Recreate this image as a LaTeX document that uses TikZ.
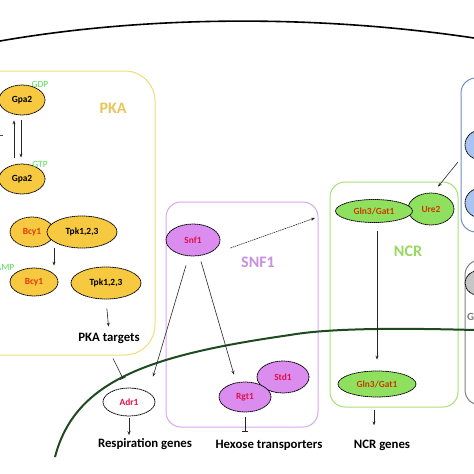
\documentclass[tikz,border=0pt]{standalone}
\usepackage{fontspec}
\setmainfont{Carlito}
\usetikzlibrary{shapes.geometric,arrows.meta}
\definecolor{pkaline}{HTML}{EEDD77}
\definecolor{pkatext}{HTML}{E8C45A}
\definecolor{yelfill}{HTML}{F7C940}
\definecolor{snfline}{HTML}{D8A8E8}
\definecolor{snftext}{HTML}{C890E0}
\definecolor{vioFill}{HTML}{DA8CEF}
\definecolor{ncrline}{HTML}{A8E070}
\definecolor{ncrtext}{HTML}{98D860}
\definecolor{grnfill}{HTML}{90E060}
\definecolor{nucline}{HTML}{1E4A1E}
\definecolor{bluline}{HTML}{6F8FC0}
\definecolor{blufill}{HTML}{A9C4F0}
\definecolor{gdpgreen}{HTML}{55E055}
\definecolor{redlab}{HTML}{E0380C}
\definecolor{crimson}{HTML}{E0104C}
\definecolor{brownlab}{HTML}{C83C00}
\begin{document}
\begin{tikzpicture}[x=1pt,y=-1pt,
  ell/.style={ellipse, draw=black, line width=0.75pt, dash pattern=on 1.6pt off 0.5pt,
    inner sep=0pt, font=\fontsize{9.4}{10}\selectfont\bfseries},
  yel/.style={ell, fill=yelfill},
  vio/.style={ell, fill=vioFill, text=crimson},
  grn/.style={ell, fill=grnfill, text=brownlab},
  arr/.style={-{Stealth[length=4pt,width=3pt]}, line width=0.6pt, draw=black!85},
  inh/.style={-{Bar[width=6pt]}, line width=0.6pt, draw=black!85},
  gene/.style={font=\fontsize{12.8}{14}\selectfont\bfseries, inner sep=1pt},
  boxlabel/.style={font=\fontsize{16}{18}\selectfont\bfseries},
  nucleotide/.style={font=\fontsize{9.5}{10}\selectfont, text=gdpgreen, inner sep=0pt},
  compbox/.style={rounded corners=15pt, line width=1pt}]
\useasboundingbox (0,0) rectangle (474,474);
\clip (0,0) rectangle (474,474);
% cell membrane
\draw[line width=1.6pt] (0,41) .. controls (150,15) and (320,15) .. (474,38);
% compartment boxes
\draw[compbox, draw=pkaline, rounded corners=30pt] (-40,71) rectangle (155,355);
\draw[compbox, draw=snfline] (166,202) rectangle (318,427);
\draw[compbox, draw=ncrline] (330,182) rectangle (458,407);
\draw[compbox, draw=bluline] (461,78) rectangle (530,232);
\draw[compbox, draw=gray] (465,260) rectangle (530,405);
% nuclear membrane
\draw[line width=2pt, draw=nucline] (55,457) .. controls (75,380) and (150,355) .. (290,335)
  .. controls (330,328) and (400,328) .. (474,330);
% box labels
\node[boxlabel, text=pkatext] (pkal) at (113,108) {PKA};
\node[boxlabel, text=snftext] (snfl) at (258,262) {SNF1};
\node[boxlabel, text=ncrtext] (ncrl) at (408,251) {NCR};
% PKA pathway
\node[yel, minimum width=46pt, minimum height=30pt] (gpaA) at (22,100) {Gpa2};
\node[yel, minimum width=46pt, minimum height=30pt] (gpaB) at (22,179) {Gpa2};
\node[nucleotide] (gdp) at (40,84) {GDP};
\node[nucleotide] (gtp) at (40,164) {GTP};
\node[yel, minimum width=44pt, minimum height=30pt, text=redlab] (bcyA) at (32,232) {Bcy1};
\node[yel, minimum width=70pt, minimum height=32pt] (tpkA) at (82,232) {Tpk1,2,3};
\node[yel, minimum width=48pt, minimum height=28pt, text=redlab] (bcyB) at (34,282) {Bcy1};
\node[nucleotide, anchor=east] (camp) at (14.5,267) {cAMP};
\node[yel, minimum width=70pt, minimum height=32pt] (tpkB) at (106,283) {Tpk1,2,3};
\node[gene] (pkat) at (109,338) {PKA targets};
\coordinate (leftin) at (-6,135);
\coordinate (leftend) at (3,135);
\draw[line width=0.6pt, draw=black!70] (leftin) -- (leftend);
\draw[arr, shorten <=6pt, shorten >=5pt] ([xshift=-8pt]gpaB.north) -- ([xshift=-8pt]gpaA.south);
\draw[arr, shorten <=5pt, shorten >=6pt] ([xshift=-1pt]gpaA.south) -- ([xshift=-1pt]gpaB.north);
\coordinate (cplx) at (54,248);
\draw[arr, shorten >=2pt] (cplx) -- (cplx |- bcyB.north);
\draw[arr, shorten <=9pt, shorten >=5pt] (tpkB.south) -- (pkat.north);
% SNF1 pathway
\node[vio, minimum width=54pt, minimum height=32pt] (snf) at (193,240) {Snf1};
\node[vio, minimum width=52pt, minimum height=32pt] (std) at (283,377) {Std1};
\node[vio, minimum width=52pt, minimum height=30pt] (rgt) at (245,397) {Rgt1};
\node[ell, fill=white, text=crimson, minimum width=52pt, minimum height=28pt] (adr) at (129,402) {Adr1};
\node[gene] (resp) at (145,444) {Respiration genes};
\node[gene] (hex) at (269,445) {Hexose transporters};
\draw[inh] ([xshift=4pt,yshift=-14pt]pkat.south) -- ([xshift=-6pt,yshift=9pt]adr.north);
\draw[arr] ([xshift=-7pt,yshift=-9pt]snf.south) -- ([xshift=24pt,yshift=11pt]adr.north);
\draw[arr] ([xshift=8pt,yshift=-5pt]snf.south) -- ([xshift=-11pt,yshift=7pt]rgt.north);
\coordinate (ncrin) at (315,218);
\draw[arr, dash pattern=on 1.5pt off 0.8pt] ([xshift=10pt,yshift=-8pt]snf.east) -- (ncrin);
\draw[inh, shorten <=5pt, shorten >=7pt] (rgt.south) -- (rgt.south |- hex.north);
\draw[arr, shorten <=2pt, shorten >=2pt] (adr.south) -- (adr.south |- resp.north);
% NCR pathway
\node[grn, minimum width=46pt, minimum height=32pt] (ure) at (431,209) {Ure2};
\node[grn, minimum width=77pt, minimum height=23pt] (glnA) at (374,211) {Gln3/Gat1};
\node[grn, minimum width=78pt, minimum height=26pt] (glnB) at (377,384) {Gln3/Gat1};
\node[gene] (ncrg) at (382,445) {NCR genes};
\coordinate (bluesrc) at (458,162);
\draw[arr] (bluesrc) -- ([xshift=7pt,yshift=6pt]ure.north);
\draw[arr, shorten <=8pt, shorten >=11pt] ([xshift=3pt]glnA.south) -- (glnB.north);
\draw[arr] ([xshift=-3pt,yshift=-13pt]glnB.south) -- ([xshift=-3pt,yshift=-28pt]glnB.south);
% partial right-hand pathways
\draw[ell, fill=blufill] (481,145) ellipse (16pt and 15pt);
\draw[ell, fill=blufill] (481,203) ellipse (16pt and 15pt);
\draw[ell, fill=gray!45] (481,283) ellipse (16pt and 13pt);
\node[font=\fontsize{11}{12}\selectfont\bfseries, text=gray, anchor=west, inner sep=0pt] (gcut) at (467,317) {G};
\end{tikzpicture}
\end{document}
